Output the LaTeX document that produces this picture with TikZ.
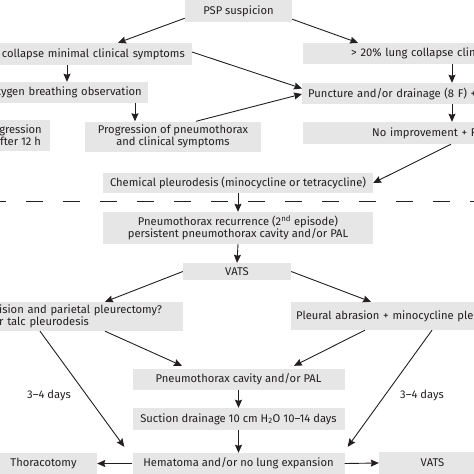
\documentclass[tikz,border=0pt]{standalone}
\usepackage{fontspec}
\setmainfont{Fira Sans}
\usetikzlibrary{arrows.meta,calc}
\definecolor{boxgray}{HTML}{E6E6E6}
\definecolor{ink}{HTML}{231F20}
\tikzset{
  gbox/.style={fill=boxgray, draw=none, inner ysep=0pt, text=ink, font=\fontsize{11.2}{12.3}\selectfont},
  conn/.style={draw=ink, line width=0.9pt, -{Stealth[length=8pt,width=7pt,inset=1pt]}},
  lbl/.style={text=ink, font=\fontsize{11.2}{12.3}\selectfont, inner sep=0pt},
  sepline/.style={draw=ink, line width=0.9pt, dash pattern=on 17pt off 20pt, dash phase=11pt}
}
\begin{document}
\begin{tikzpicture}[x=1pt,y=-1pt]
\useasboundingbox (0,0) rectangle (474,474);
\clip (0,0) rectangle (474,474);
% boxes
\node[gbox, minimum width=107pt, minimum height=22pt] (psp) at (238.5,11) {PSP suspicion};
\node[gbox, anchor=east, minimum height=22pt, inner xsep=7pt, text width=210pt, align=right] (left1) at (192,54) {g collapse minimal clinical symptoms};
\node[gbox, anchor=west, minimum height=21pt, inner xsep=48pt, text width=200pt, align=left] (right1) at (303,53.5) {> 20\% lung collapse clinic};
\node[gbox, anchor=east, minimum height=21pt, inner xsep=6pt, text width=170pt, align=right] (oxy) at (148,92.5) {xygen breathing observation};
\node[gbox, anchor=west, minimum height=21pt, inner xsep=6pt, text width=200pt, align=left] (punct) at (302,93.5) {Puncture and/or drainage (8 F) +};
\node[gbox, anchor=east, minimum height=31pt, inner xsep=8pt, align=center] (noprog) at (50,135.5) {gression\\fter 12 h};
\node[gbox, minimum width=176pt, minimum height=30pt, align=center] (prog) at (173,136.5) {Progression of pneumothorax\\and clinical symptoms};
\node[gbox, anchor=west, minimum height=22pt, inner xsep=69pt, text width=200pt, align=left] (noimp) at (303,133) {No improvement + R};
\node[gbox, minimum width=270pt, minimum height=20pt] (chem) at (238,183) {Chemical pleurodesis (minocycline or tetracycline)};
\node[gbox, minimum width=270pt, minimum height=32pt, align=center] (recur) at (238,228) {Pneumothorax recurrence (2\textsuperscript{nd} episode)\\persistent pneumothorax cavity and/or PAL};
\node[gbox, minimum width=108pt, minimum height=17pt] (vats) at (237,271.5) {VATS};
\node[gbox, anchor=west, minimum height=29pt, inner xsep=9pt, text width=175pt, align=left] (excis) at (-10,316.5) {ision and parietal pleurectomy?\\r talc pleurodesis};
\node[gbox, anchor=west, minimum height=28pt, inner xsep=5pt, text width=200pt, align=left] (pleur) at (291,316) {Pleural abrasion + minocycline pleu};
\node[gbox, minimum width=212pt, minimum height=21pt] (pcav) at (238.5,379.5) {Pneumothorax cavity and/or PAL};
\node[gbox, minimum width=212pt, minimum height=22pt] (suct) at (238.5,419) {Suction drainage 10 cm H\textsubscript{2}O 10--14 days};
\node[gbox, minimum width=212pt, minimum height=21pt] (hema) at (238.5,463.5) {Hematoma and/or no lung expansion};
\node[gbox, minimum width=107pt, minimum height=21pt] (thor) at (43.5,463.5) {Thoracotomy};
\node[gbox, minimum width=107pt, minimum height=22pt] (bvats) at (432.5,463) {VATS};
% labels
\node[lbl] (d1) at (49,395) {3--4 days};
\node[lbl] (d2) at (422,395) {3--4 days};
% dashed separator
\coordinate (sepL) at (0,201);
\coordinate (sepR) at (474,201);
\draw[sepline] (sepL) -- (sepR);
% connectors
\draw[conn] ([yshift=4pt]psp.south west) -- (118,0 |- left1.north);
\draw[conn] ([yshift=3pt]psp.south east) -- (358,0 |- right1.north);
\draw[conn] (67,0 |- left1.south) -- (67,0 |- oxy.north);
\draw[conn] ([yshift=2pt]left1.east) -- ([yshift=5pt]punct.west);
\draw[conn] (135,0 |- oxy.south) -- (135,0 |- prog.north);
\draw[conn] (196,0 |- prog.north) -- ([yshift=-0.5pt]punct.west);
\draw[conn] (452,0 |- right1.south) -- (452,0 |- punct.north);
\draw[conn] (452,0 |- punct.south) -- (452,0 |- noimp.north);
\draw[conn] (451,0 |- noimp.south) -- (chem.east);
\draw[conn] (chem.south) -- (recur.north);
\draw[conn] (recur.south) -- (vats.north);
\draw[conn] (vats.west) -- (105,0 |- excis.north);
\draw[conn] (vats.east) -- (371,0 |- pleur.north);
\draw[conn] (40,0 |- excis.south) -- ([xshift=-8pt,yshift=6pt]hema.north west);
\draw[conn] (105,0 |- excis.south) -- ([yshift=3pt]182,0 |- pcav.north);
\draw[conn] (365,0 |- pleur.south) -- ([yshift=3pt]294,0 |- pcav.north);
\draw[conn] (432,0 |- pleur.south) -- ([xshift=3pt,yshift=6pt]hema.north east);
\draw[conn] (pcav.south) -- (suct.north);
\draw[conn] (suct.south) -- (hema.north);
\draw[conn] (hema.west) -- (thor.east);
\draw[conn] (hema.east) -- (bvats.west);
\end{tikzpicture}
\end{document}
